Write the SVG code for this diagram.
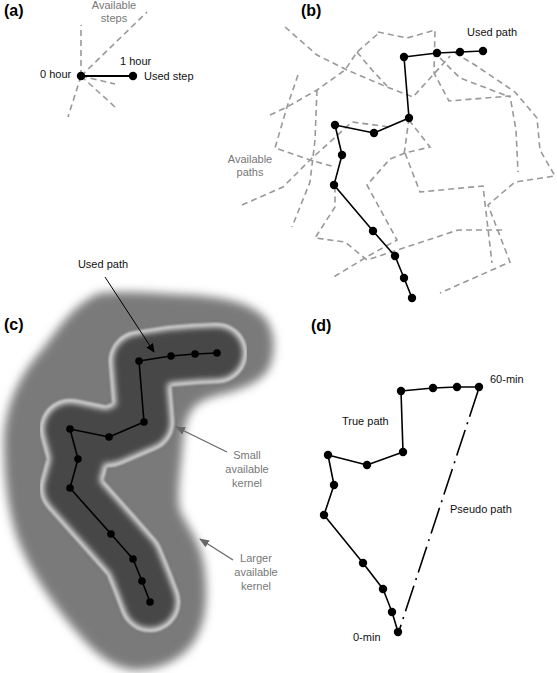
<svg xmlns="http://www.w3.org/2000/svg" width="557" height="673" viewBox="0 0 557 673">
<style>
text{font-family:"Liberation Sans",Arial,sans-serif;font-size:11px;fill:#111}
.lbl{font-size:16px;font-weight:bold;fill:#000}
.g{fill:#777}
.dash{fill:none;stroke:#999;stroke-width:1.6;stroke-dasharray:6 4}
.path{fill:none;stroke:#000;stroke-width:1.6;stroke-linejoin:round}
.dot{fill:#000}
</style>
<defs>
<filter id="blurOuter" x="-20%" y="-20%" width="140%" height="140%"><feGaussianBlur stdDeviation="5"/></filter>
<filter id="blurInner" x="-20%" y="-20%" width="140%" height="140%"><feGaussianBlur stdDeviation="3"/></filter>
<filter id="blurGlow" x="-20%" y="-20%" width="140%" height="140%"><feGaussianBlur stdDeviation="1"/></filter>
<marker id="arrK" markerWidth="9" markerHeight="8" refX="8" refY="4" orient="auto" markerUnits="userSpaceOnUse"><path d="M0,0 L9,4 L0,8 Z" fill="#000"/></marker>
<marker id="arrG" markerWidth="10" markerHeight="8" refX="9" refY="4" orient="auto" markerUnits="userSpaceOnUse"><path d="M0,0 L10,4 L0,8 Z" fill="#666"/></marker>
</defs>

<!-- Panel (a) -->
<g id="panel-a">
<text class="lbl" x="4" y="16">(a)</text>
<g id="a-available">
<path class="dash" d="M81,76 L81,25"/>
<path class="dash" d="M81,76 L147,12"/>
<path class="dash" d="M81,76 L115,84"/>
<path class="dash" d="M81,76 L115,107"/>
<path class="dash" d="M81,76 L68,117"/>
<text class="g" x="114" y="9" text-anchor="middle">Available</text>
<text class="g" x="114" y="22" text-anchor="middle">steps</text>
</g>
<g id="a-used">
<line x1="81" y1="76" x2="133" y2="76" stroke="#000" stroke-width="1.8"/>
<circle class="dot" cx="81" cy="76" r="4.2"/>
<circle class="dot" cx="133" cy="76" r="4.2"/>
<text x="40" y="78">0 hour</text>
<text x="120" y="65">1 hour</text>
<text x="144" y="80">Used step</text>
</g>
</g>

<!-- Panel (b) -->
<g id="panel-b">
<text class="lbl" x="301" y="16">(b)</text>
<g id="b-available">
<path class="dash" d="M285,27 L317,55 L347,70 L387,87 L413,97 L433,75 L450,56"/>
<path class="dash" d="M378,32 L407,38 L435,30 L434,73 L449,101 L510,96 L516,130 L518,172"/>
<path class="dash" d="M455,53 L475,65 L515,92 L537,118 L540,150 L555,176 L515,182 L488,205 L510,262 L440,293"/>
<path class="dash" d="M440,58 L460,78 L510,97"/>
<path class="dash" d="M317,90 L315,140 L310,182 L292,227"/>
<path class="dash" d="M270,115 L287,107 L317,90 L345,70 L357,52 L380,32"/>
<path class="dash" d="M357,52 L372,70 L387,86"/>
<path class="dash" d="M409,120 L430,147 L405,153 L420,192 L483,186 L492,263"/>
<path class="dash" d="M409,118 L404,155"/>
<path class="dash" d="M405,153 L390,159 L367,185 L397,240 L370,255 L332,278"/>
<path class="dash" d="M502,230 L458,230 L367,260 L345,242 L315,238 L335,207 L335,187"/>
<path class="dash" d="M298,75 L287,107 L275,148 L310,160 L335,167"/>
<path class="dash" d="M242,205 L283,187 L310,160 L352,122 L390,127"/>
<text class="g" x="250" y="163" text-anchor="middle">Available</text>
<text class="g" x="250" y="176" text-anchor="middle">paths</text>
</g>
<g id="b-used">
<path class="path" d="M483,51 L460,52 L437,53 L404,57 L409,118 L374,133 L335,125 L342,155 L334,185 L373,231 L395,256 L404,278 L412,298"/>
<g class="dot">
<circle cx="483" cy="51" r="4.2"/><circle cx="460" cy="52" r="4.2"/><circle cx="437" cy="53" r="4.2"/><circle cx="404" cy="57" r="4.2"/>
<circle cx="409" cy="118" r="4.2"/><circle cx="374" cy="133" r="4.2"/><circle cx="335" cy="125" r="4.2"/><circle cx="342" cy="155" r="4.2"/>
<circle cx="334" cy="185" r="4.2"/><circle cx="373" cy="231" r="4.2"/><circle cx="395" cy="256" r="4.2"/><circle cx="404" cy="278" r="4.2"/><circle cx="412" cy="298" r="4.2"/>
</g>
<text x="467" y="36">Used path</text>
</g>
</g>

<!-- Panel (c) -->
<g id="panel-c">
<g id="c-large-kernel">
<path d="M100,293 C140,290 170,295 193,295 C220,298 248,300 265,318 C276,332 276,355 268,370 C258,384 240,390 215,396 C195,402 186,410 183,440 C181,470 176,495 180,510 C186,525 200,540 204,565 C208,595 207,620 195,640 C182,660 160,670 135,670 C110,668 92,650 75,630 C58,610 35,580 20,545 C8,515 4,480 4,440 C5,405 20,375 40,352 C55,335 70,305 100,293 Z" fill="#7a7a7a" filter="url(#blurOuter)"/>
</g>
<g id="c-small-kernel">
<path d="M217,353 L195,354 L171,356 L139,361 L144,422 L109,437 L70,429 L78,459 L70,488 L111,534 L133,559 L142,581 L150,602" fill="none" stroke="#f8f8f8" stroke-width="60" stroke-linejoin="round" stroke-linecap="round" filter="url(#blurGlow)"/>
<path d="M217,353 L195,354 L171,356 L139,361 L144,422 L109,437 L70,429 L78,459 L70,488 L111,534 L133,559 L142,581 L150,602" fill="none" stroke="#464646" stroke-width="53" stroke-linejoin="round" stroke-linecap="round" filter="url(#blurInner)"/>
</g>
<g id="c-used">
<path class="path" stroke-width="1.4" d="M217,353 L195,354 L171,356 L139,361 L144,422 L109,437 L70,429 L78,459 L70,488 L111,534 L133,559 L142,581 L150,602"/>
<g class="dot">
<circle cx="217" cy="353" r="3.8"/><circle cx="195" cy="354" r="3.8"/><circle cx="171" cy="356" r="3.8"/><circle cx="139" cy="361" r="3.8"/>
<circle cx="144" cy="422" r="3.8"/><circle cx="109" cy="437" r="3.8"/><circle cx="70" cy="429" r="3.8"/><circle cx="78" cy="459" r="3.8"/>
<circle cx="70" cy="488" r="3.8"/><circle cx="111" cy="534" r="3.8"/><circle cx="133" cy="559" r="3.8"/><circle cx="142" cy="581" r="3.8"/><circle cx="150" cy="602" r="3.8"/>
</g>
</g>
<text class="lbl" x="4" y="330">(c)</text>
<text x="103" y="268" text-anchor="middle">Used path</text>
<text class="g" x="247" y="459" text-anchor="middle">Small</text>
<text class="g" x="247" y="473" text-anchor="middle">available</text>
<text class="g" x="247" y="487" text-anchor="middle">kernel</text>
<text class="g" x="256" y="562" text-anchor="middle">Larger</text>
<text class="g" x="256" y="576" text-anchor="middle">available</text>
<text class="g" x="256" y="590" text-anchor="middle">kernel</text>
</g>

<!-- Panel (d) -->
<g id="panel-d">
<text class="lbl" x="311" y="331">(d)</text>
<g id="d-true">
<path class="path" d="M479,387 L457,387 L433,388 L401,391 L403,452 L367,465 L328,455 L334,485 L324,515 L363,563 L383,589 L392,612 L398,632"/>
<g class="dot">
<circle cx="479" cy="387" r="4.2"/><circle cx="457" cy="387" r="4.2"/><circle cx="433" cy="388" r="4.2"/><circle cx="401" cy="391" r="4.2"/>
<circle cx="403" cy="452" r="4.2"/><circle cx="367" cy="465" r="4.2"/><circle cx="328" cy="455" r="4.2"/><circle cx="334" cy="485" r="4.2"/>
<circle cx="324" cy="515" r="4.2"/><circle cx="363" cy="563" r="4.2"/><circle cx="383" cy="589" r="4.2"/><circle cx="392" cy="612" r="4.2"/><circle cx="398" cy="632" r="4.2"/>
</g>
<text x="342" y="425">True path</text>
<text x="490" y="383">60-min</text>
<text x="353" y="641">0-min</text>
</g>
</g>

<g id="connectors">
<line x1="105" y1="277" x2="154" y2="352" stroke="#000" stroke-width="1" marker-end="url(#arrK)"/>
<line x1="227" y1="452" x2="176" y2="427" stroke="#666" stroke-width="1.2" marker-end="url(#arrG)"/>
<line x1="233" y1="560" x2="200" y2="539" stroke="#666" stroke-width="1.2" marker-end="url(#arrG)"/>
<line id="pseudo-path" x1="478" y1="391" x2="399" y2="631" stroke="#000" stroke-width="1.6" stroke-dasharray="27 6 2 6"/>
<text x="450" y="513">Pseudo path</text>
</g>
</svg>
